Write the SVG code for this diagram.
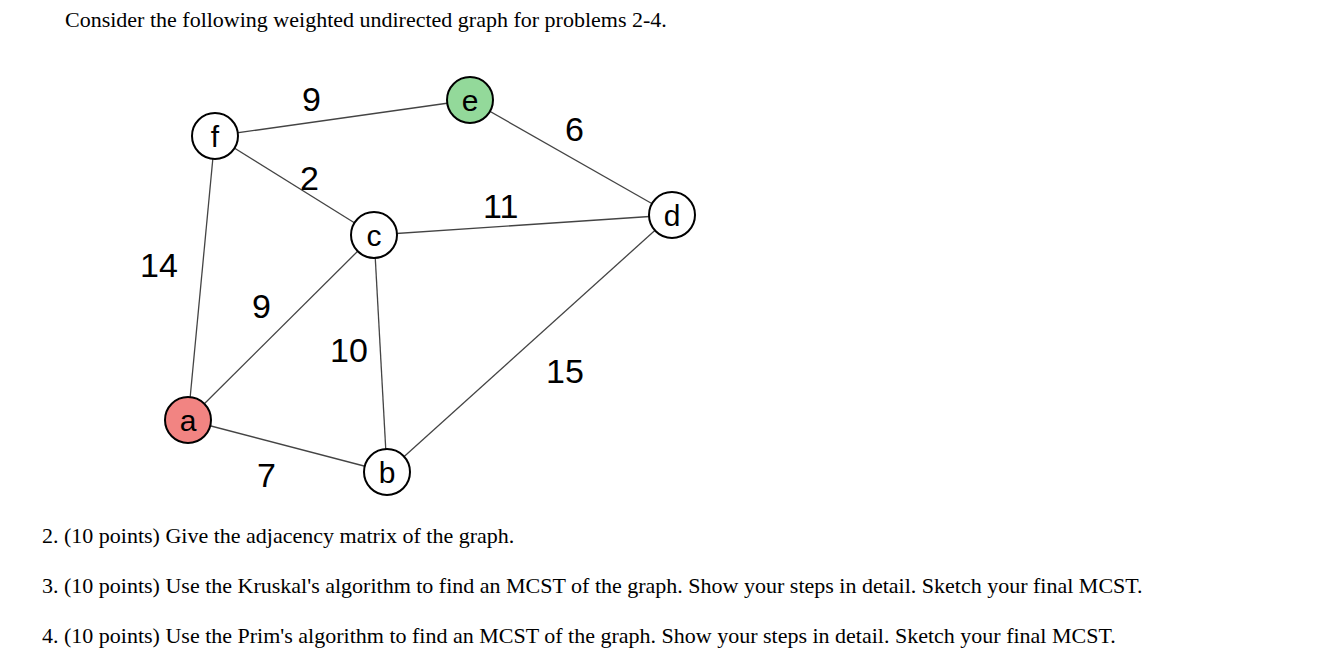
<svg xmlns="http://www.w3.org/2000/svg" width="1340" height="654" viewBox="0 0 1340 654">
<style>
.t{font-family:"Liberation Serif",serif;font-size:22px;fill:#000}
.w{font-family:"Liberation Sans",Arial,sans-serif;font-size:34px;fill:#000}
.n{fill:#fff;stroke:#000;stroke-width:2}
.l{font-family:"Liberation Sans",Arial,sans-serif;font-size:30px;fill:#000;text-anchor:middle}
.e{stroke:#444;stroke-width:1.3}
</style>
<rect width="1340" height="654" fill="#fff"/>
<text class="t" x="65" y="27">Consider the following weighted undirected graph for problems 2-4.</text>
<g id="connectors">
<line class="e" x1="215" y1="136" x2="470" y2="100"/>
<line class="e" x1="470" y1="100" x2="672" y2="215"/>
<line class="e" x1="215" y1="136" x2="374" y2="235"/>
<line class="e" x1="374" y1="235" x2="672" y2="215"/>
<line class="e" x1="215" y1="136" x2="188" y2="420"/>
<line class="e" x1="374" y1="235" x2="188" y2="420"/>
<line class="e" x1="374" y1="235" x2="387" y2="472"/>
<line class="e" x1="188" y1="420" x2="387" y2="472"/>
<line class="e" x1="672" y1="215" x2="387" y2="472"/>
</g>
<g id="weights">
<text class="w" x="302" y="111">9</text>
<text class="w" x="565" y="141">6</text>
<text class="w" x="300" y="190">2</text>
<text class="w" x="483" y="218">11</text>
<text class="w" x="140" y="277">14</text>
<text class="w" x="252" y="318">9</text>
<text class="w" x="330" y="362">10</text>
<text class="w" x="546" y="383">15</text>
<text class="w" x="257" y="487">7</text>
</g>
<g id="node-f"><circle class="n" cx="215" cy="136" r="23"/><text class="l" x="215" y="147">f</text></g>
<g id="node-e"><circle class="n" cx="470" cy="100" r="23" fill="#93d99a" style="fill:#93d99a"/><text class="l" x="470" y="111">e</text></g>
<g id="node-c"><circle class="n" cx="374" cy="235" r="23"/><text class="l" x="374" y="246">c</text></g>
<g id="node-d"><circle class="n" cx="672" cy="215" r="23"/><text class="l" x="672" y="226">d</text></g>
<g id="node-a"><circle class="n" cx="188" cy="420" r="23" style="fill:#f28482"/><text class="l" x="188" y="431">a</text></g>
<g id="node-b"><circle class="n" cx="387" cy="472" r="23"/><text class="l" x="387" y="483">b</text></g>
<text class="t" x="42" y="543">2. (10 points) Give the adjacency matrix of the graph.</text>
<text class="t" x="42" y="593">3. (10 points) Use the Kruskal's algorithm to find an MCST of the graph. Show your steps in detail. Sketch your final MCST.</text>
<text class="t" x="42" y="643">4. (10 points) Use the Prim's algorithm to find an MCST of the graph. Show your steps in detail. Sketch your final MCST.</text>
</svg>
